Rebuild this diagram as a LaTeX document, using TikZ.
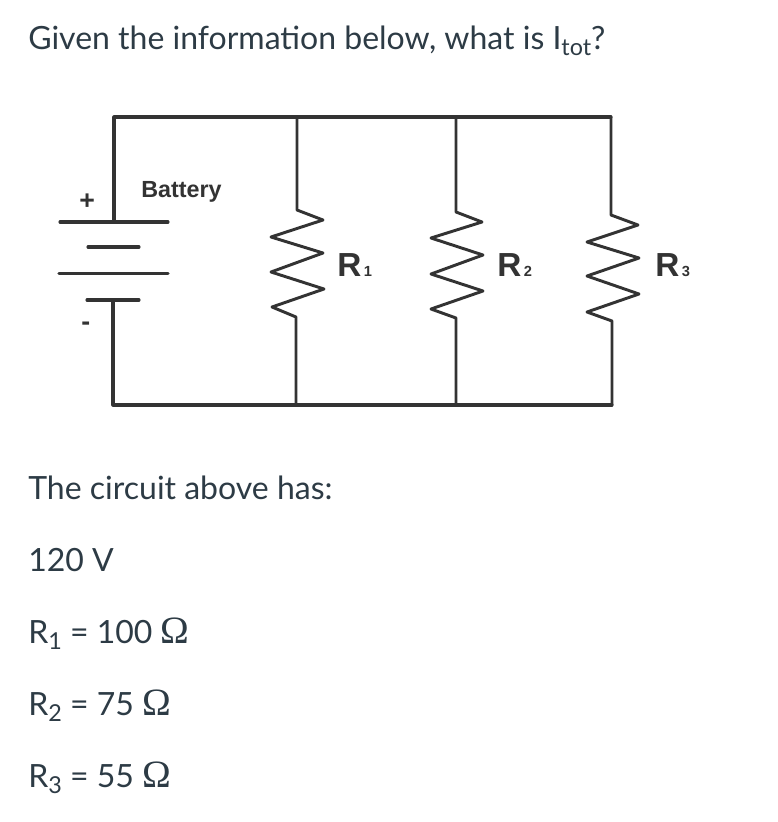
\documentclass[tikz,border=0pt]{standalone}
\usepackage{fontspec}
\setmainfont{Lato}
\newfontfamily\omegafont{Liberation Serif}
\newfontfamily\labelfont{Liberation Sans}
\usetikzlibrary{positioning}
\definecolor{textcol}{HTML}{2D3B45}
\definecolor{wirecol}{HTML}{333333}
\newcommand{\lowtext}[1]{\raisebox{-0.42ex}{\fontsize{17.5pt}{17.5pt}\selectfont #1}}
\newcommand{\ohm}{{\omegafont\fontsize{29pt}{29pt}\selectfont\char"03A9}}
\tikzset{
  wire/.style={draw=wirecol, line width=2.3pt},
  thin wire/.style={draw=wirecol, line width=2.2pt},
  question/.style={anchor=base west, inner sep=0pt, text=textcol, font=\fontsize{24pt}{24pt}\selectfont},
  circuit label/.style={anchor=base west, inner sep=0pt, text=wirecol, font=\labelfont\bfseries},
}
\begin{document}
\begin{tikzpicture}[line cap=round,line join=round,x=0.75pt,y=-0.75pt]
\useasboundingbox (0,0) rectangle (778,822);
% corners and joints
\coordinate (tl) at (114,117);
\coordinate (tr) at (611,117);
\coordinate (bl) at (113,405);
\coordinate (br) at (612,405);
\coordinate (top1) at (297,117);
\coordinate (top2) at (456,117);
\coordinate (bot1) at (296,405);
\coordinate (bot2) at (456,405);
% battery plates
\coordinate (p1) at (114,222);
\coordinate (p4) at (113,300);
\draw [wire](60,222)-- (168,222);
\draw [wire](88,247)-- (139,247);
\draw [wire](59,273.5)-- (168,273.5);
\draw [wire](87,300)-- (139,300);
% outer wires
\draw [wire](p1)-- (tl)-- (tr);
\draw [wire](p4)-- (bl)-- (br);
% resistors
\draw [thin wire](top1)-- (297,210)-- (323,220)-- (271,237)-- (323,253)-- (271,272)-- (324,289)-- (272,307)-- (296,317)-- (bot1);
\draw [thin wire](top2)-- (456,212)-- (482,222)-- (431,238)-- (483,255)-- (431,274)-- (483,291)-- (431,309)-- (456,318)-- (bot2);
\draw [thin wire](tr)-- (611,215)-- (638,225)-- (587,242)-- (639,258)-- (587,276)-- (639,294)-- (587,312)-- (612,321)-- (br);
% circuit labels
\node [circuit label, font=\labelfont\bfseries\fontsize{17.5pt}{17.5pt}\selectfont] (battery) at (141,197) {Battery};
\node [circuit label, font=\labelfont\bfseries\fontsize{20pt}{20pt}\selectfont] (plus) at (79,209) {+};
\node [circuit label, font=\labelfont\bfseries\fontsize{20pt}{20pt}\selectfont] (minus) at (81,330) {-};
\node [circuit label, font=\labelfont\bfseries\fontsize{25pt}{25pt}\selectfont] (r1) at (337,276) {R\fontsize{11pt}{11pt}\selectfont\,1};
\node [circuit label, font=\labelfont\bfseries\fontsize{25pt}{25pt}\selectfont] (r2) at (497,276) {R\fontsize{11pt}{11pt}\selectfont\,2};
\node [circuit label, font=\labelfont\bfseries\fontsize{25pt}{25pt}\selectfont] (r3) at (655,276) {R\fontsize{11pt}{11pt}\selectfont\,3};
% question text
\node [question] (title) at (28,49) {Given the information below, what is I\lowtext{tot}?};
\node [question] (intro) at (28,499) {The circuit above has:};
\node [question] (volt) at (28,571) {120 V};
\node [question] (val1) at (28,643) {R\lowtext{1} = 100 \ohm};
\node [question] (val2) at (28,715) {R\lowtext{2} = 75 \ohm};
\node [question] (val3) at (28,787) {R\lowtext{3} = 55 \ohm};
\end{tikzpicture}
\end{document}
